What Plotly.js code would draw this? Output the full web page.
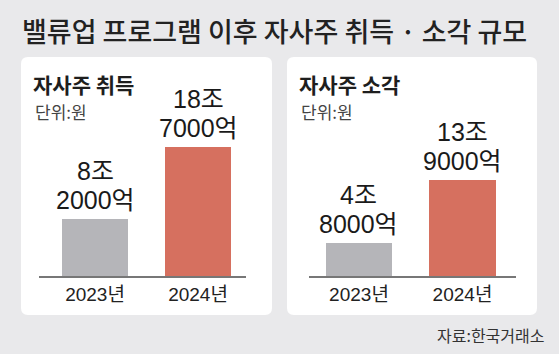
<!DOCTYPE html>
<html>
<head>
<meta charset="utf-8">
<script src="https://cdn.plot.ly/plotly-3.0.1.min.js"></script>
<style>
  html, body { margin: 0; padding: 0; background: #e9e9eb; }
  #chart { width: 559px; height: 354px; }
</style>
</head>
<body>
<div id="chart"></div>
<script>
// ---- data (단위: 조원) ----
const years = ['2023년', '2024년'];
const acquireValues = [8.2, 18.7];
const retireValues = [4.8, 13.9];
const acquireJo = ['8조', '18조'];
const acquireEok = ['2000억', '7000억'];
const retireJo = ['4조', '13조'];
const retireEok = ['8000억', '9000억'];
const barColors = ['#b5b5b9', '#d6705f'];

const mainTitle = '밸류업 프로그램 이후 자사주 취득 · 소각 규모';
const leftTitle = '자사주 취득';
const rightTitle = '자사주 소각';
const unitText = '단위:원';
const sourceText = '자료:한국거래소';

const W = 559, H = 354;
const KR = '"Noto Sans CJK KR", sans-serif';
const NUM = '"Liberation Sans", "Noto Sans CJK KR", sans-serif';
const px = v => v / W;
const py = v => 1 - v / H;

function roundedRect(x0, y0, x1, y1, r) {
  const X0 = px(x0), X1 = px(x1), Y0 = py(y0), Y1 = py(y1);
  const rx = r / W, ry = r / H;
  return `M ${X0 + rx} ${Y0} L ${X1 - rx} ${Y0} Q ${X1} ${Y0} ${X1} ${Y0 - ry} ` +
         `L ${X1} ${Y1 + ry} Q ${X1} ${Y1} ${X1 - rx} ${Y1} L ${X0 + rx} ${Y1} ` +
         `Q ${X0} ${Y1} ${X0} ${Y1 + ry} L ${X0} ${Y0 - ry} Q ${X0} ${Y0} ${X0 + rx} ${Y0} Z`;
}

const traces = [
  { type: 'bar', x: years, y: acquireValues, xaxis: 'x', yaxis: 'y',
    marker: { color: barColors }, width: 0.64, hoverinfo: 'none' },
  { type: 'bar', x: years, y: retireValues, xaxis: 'x2', yaxis: 'y2',
    marker: { color: barColors }, width: 0.64, hoverinfo: 'none' }
];

const annotations = [];
function addValueLabels(vals, jo, eok, xr, yr) {
  vals.forEach((v, i) => {
    annotations.push({ x: years[i], y: v, xref: xr, yref: yr, text: eok[i],
      showarrow: false, yanchor: 'middle', yshift: 19,
      font: { family: NUM, size: 25, color: '#1a1a1a' } });
    annotations.push({ x: years[i], y: v, xref: xr, yref: yr, text: jo[i],
      showarrow: false, yanchor: 'middle', yshift: 48,
      font: { family: NUM, size: 25, color: '#1a1a1a' } });
  });
}
addValueLabels(acquireValues, acquireJo, acquireEok, 'x', 'y');
addValueLabels(retireValues, retireJo, retireEok, 'x2', 'y2');

annotations.push(
  { text: mainTitle, xref: 'paper', yref: 'paper', x: px(20), y: py(30),
    xanchor: 'left', yanchor: 'middle', showarrow: false,
    font: { family: KR, size: 27, color: '#222', weight: 500 } },
  { text: leftTitle, xref: 'paper', yref: 'paper', x: px(31), y: py(84),
    xanchor: 'left', yanchor: 'middle', showarrow: false,
    font: { family: KR, size: 21, color: '#1e1e1e', weight: 700 } },
  { text: unitText, xref: 'paper', yref: 'paper', x: px(33), y: py(111),
    xanchor: 'left', yanchor: 'middle', showarrow: false,
    font: { family: KR, size: 17, color: '#444' } },
  { text: rightTitle, xref: 'paper', yref: 'paper', x: px(297), y: py(84),
    xanchor: 'left', yanchor: 'middle', showarrow: false,
    font: { family: KR, size: 21, color: '#1e1e1e', weight: 700 } },
  { text: unitText, xref: 'paper', yref: 'paper', x: px(299), y: py(111),
    xanchor: 'left', yanchor: 'middle', showarrow: false,
    font: { family: KR, size: 17, color: '#444' } },
  { text: sourceText, xref: 'paper', yref: 'paper', x: px(547), y: py(335),
    xanchor: 'right', yanchor: 'middle', showarrow: false,
    font: { family: KR, size: 16, color: '#333' } }
);

const yDomain = [py(276), py(57)];
const yRange = [0, (276 - 57) / 6.9];
const xCommon = {
  type: 'category', showline: true, linecolor: '#777', linewidth: 2,
  ticks: '', showgrid: false, zeroline: false, fixedrange: true,
  tickfont: { family: NUM, size: 19, color: '#222' }
};
const yCommon = { visible: false, range: yRange, domain: yDomain, fixedrange: true };

const layout = {
  width: W, height: H,
  margin: { l: 0, r: 0, t: 0, b: 0 },
  paper_bgcolor: '#e9e9eb',
  plot_bgcolor: 'rgba(0,0,0,0)',
  showlegend: false,
  bargap: 0,
  xaxis: Object.assign({}, xCommon, { domain: [px(39), px(246)], range: [-0.544, 1.466], anchor: 'y' }),
  yaxis: Object.assign({}, yCommon, { anchor: 'x' }),
  xaxis2: Object.assign({}, xCommon, { domain: [px(309), px(516)], range: [-0.483, 1.517], anchor: 'y2' }),
  yaxis2: Object.assign({}, yCommon, { anchor: 'x2' }),
  shapes: [
    { type: 'path', xref: 'paper', yref: 'paper', layer: 'below',
      path: roundedRect(21, 57, 272, 315, 7), fillcolor: '#ffffff', line: { width: 0 } },
    { type: 'path', xref: 'paper', yref: 'paper', layer: 'below',
      path: roundedRect(287, 57, 537, 315, 7), fillcolor: '#ffffff', line: { width: 0 } }
  ],
  annotations: annotations
};

Plotly.newPlot('chart', traces, layout, { displayModeBar: false, staticPlot: true });
</script>
</body>
</html>
